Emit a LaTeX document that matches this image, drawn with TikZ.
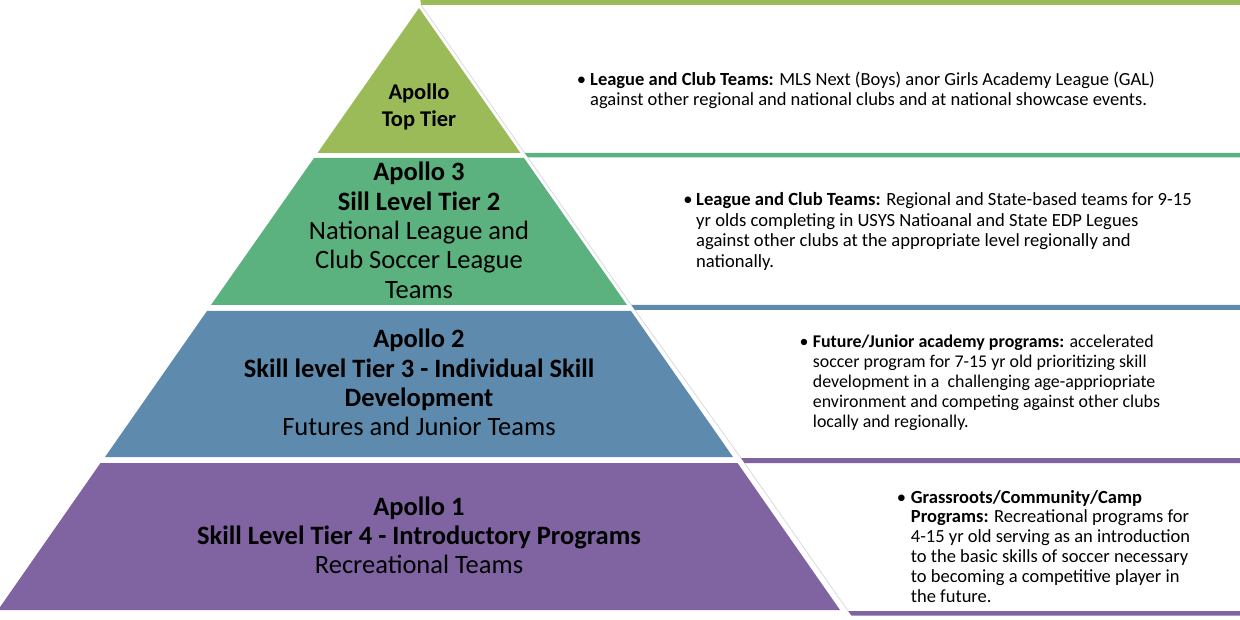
\documentclass[tikz,border=0pt]{standalone}
\usepackage{fontspec}
\setmainfont{Carlito}
\definecolor{cLime}{HTML}{9BBB59}
\definecolor{cGreen}{HTML}{5CB27E}
\definecolor{cBlue}{HTML}{5E8BAD}
\definecolor{cPurple}{HTML}{8064A2}
\definecolor{cEdge}{HTML}{D6D6E2}
\newcommand{\pyrsize}{\fontsize{26.5}{29.3}\selectfont}
\tikzset{
  boxedge/.style={draw=cEdge, line width=0.7pt},
  tiertext/.style={inner sep=0pt, anchor=base},
  desctext/.style={inner sep=0pt, anchor=base west},
  bulletmark/.style={inner sep=0pt, anchor=base},
}
\begin{document}
\begin{tikzpicture}[x=1pt,y=-1pt]
\useasboundingbox (0,0) rectangle (1240,620);
\fill[white] (0,0) rectangle (1240,620);
% slanted edges of description boxes (xL(y) = 426 + 0.7*(y-8))
\coordinate (e1a) at (421.1,5);
\coordinate (e1b) at (524.7,153);
\coordinate (e2a) at (528.2,158);
\coordinate (e2b) at (631.3,305);
\coordinate (e3a) at (634.8,310);
\coordinate (e3b) at (741.0,458);
\coordinate (e4a) at (744.5,463);
\coordinate (e4b) at (848.1,611);
\draw[boxedge] (e1a) -- (e1b);
\draw[boxedge] (e2a) -- (e2b);
\draw[boxedge] (e3a) -- (e3b);
\draw[boxedge] (e4a) -- (e4b);
% coloured bars
\fill[cLime]   (420.4,0) -- (1240,0) -- (1240,5) -- (421.1,5) -- cycle;
\fill[cGreen]  (524.7,153) -- (1240,153) -- (1240,157.5) -- (527.9,157.5) -- cycle;
\fill[cBlue]   (631.3,305) -- (1240,305) -- (1240,310) -- (634.8,310) -- cycle;
\fill[cPurple] (741.0,458) -- (1240,458) -- (1240,463) -- (744.5,463) -- cycle;
\fill[cPurple] (848.1,611) -- (1240,611) -- (1240,615.5) -- (851.3,615.5) -- cycle;
% pyramid tiers (apex (419,8), half width 0.70*(y-8))
\fill[cLime]   (419,8) -- (520.5,153) -- (317.5,153) -- cycle;
\fill[cGreen]  (314,158) -- (524,158) -- (627,305) -- (211,305) -- cycle;
\fill[cBlue]   (207,311) -- (631,311) -- (733,457) -- (105,457) -- cycle;
\fill[cPurple] (100.5,463) -- (737.5,463) -- (840,610) -- (-2,610) -- cycle;
% pyramid texts
\node[tiertext] (t1) at (419,100) {\parbox[t]{200pt}{\centering\fontsize{22.5}{26.2}\selectfont\bfseries Apollo\\Top Tier}};
\node[tiertext] (t2) at (419,181) {\parbox[t]{400pt}{\centering\pyrsize
{\bfseries Apollo 3\\Sill Level Tier 2}\\National League and\\Club Soccer League\\Teams}};
\node[tiertext] (t3) at (419,348) {\parbox[t]{600pt}{\centering\pyrsize
{\bfseries Apollo 2\\Skill level Tier 3 - Individual Skill\\Development}\\Futures and Junior Teams}};
\node[tiertext] (t4) at (419,515) {\parbox[t]{700pt}{\centering\pyrsize
{\bfseries Apollo 1\\Skill Level Tier 4 - Introductory Programs}\\Recreational Teams}};
% descriptions
\node[bulletmark, font=\fontsize{18.5}{19.8}\selectfont] (b1) at (581.5,86) {•};
\node[desctext] (d1) at (590,86) {\parbox[t]{640pt}{\raggedright\fontsize{18.5}{19.8}\selectfont
\textbf{League and Club Teams:} MLS Next (Boys) anor Girls Academy League (GAL)\\
against other regional and national clubs and at national showcase events.}};
\node[bulletmark, font=\fontsize{18.6}{20.4}\selectfont] (b2) at (688,206) {•};
\node[desctext] (d2) at (696,206) {\parbox[t]{540pt}{\raggedright\fontsize{18.6}{20.4}\selectfont
\textbf{League and Club Teams:} Regional and State-based teams for 9-15\\
yr olds completing in USYS Natioanal and State EDP Legues\\
against other clubs at the appropriate level regionally and\\
nationally.}};
\node[bulletmark, font=\fontsize{17.9}{20}\selectfont] (b3) at (804,348) {•};
\node[desctext] (d3) at (812.7,348) {\parbox[t]{420pt}{\raggedright\fontsize{17.9}{20}\selectfont
\textbf{Future/Junior academy programs:} accelerated\\
soccer program for 7-15 yr old prioritizing skill\\
development in a\ \ challenging age-appriopriate\\
environment and competing against other clubs\\
locally and regionally.}};
\node[bulletmark, font=\fontsize{18.5}{19.9}\selectfont] (b4) at (901.5,503) {•};
\node[desctext] (d4) at (910.7,503) {\parbox[t]{320pt}{\raggedright\fontsize{18.5}{19.9}\selectfont
\textbf{Grassroots/Community/Camp}\\
\textbf{Programs:} Recreational programs for\\
4-15 yr old serving as an introduction\\
to the basic skills of soccer necessary\\
to becoming a competitive player in\\
the future.}};
\end{tikzpicture}
\end{document}
